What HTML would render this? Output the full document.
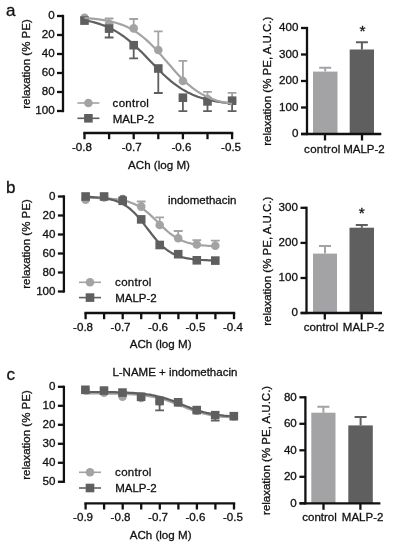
<!DOCTYPE html>
<html><head><meta charset="utf-8"><title>figure</title>
<style>
html,body{margin:0;padding:0;background:#fff;}
svg{display:block;filter:blur(0.3px);}
text{font-family:"Liberation Sans",sans-serif;fill:#111;stroke:#111;stroke-width:0.3px;}
</style></head><body>
<svg width="393" height="550" viewBox="0 0 393 550">
<rect width="393" height="550" fill="#fff"/>
<text x="5.9" y="15.5" font-size="17" text-anchor="start" >a</text>
<text transform="translate(29.6,64.0) rotate(-90)" font-size="11.5" text-anchor="middle">relaxation (% PE)</text>
<path d="M109.1,23.8 V18.5 M104.7,18.5 H113.5" fill="none" stroke="#a3a3a6" stroke-width="1.8"/>
<path d="M133.7,28.4 V19.0 M129.3,19.0 H138.1" fill="none" stroke="#a3a3a6" stroke-width="1.8"/>
<path d="M158.3,50.0 V31.4 M153.9,31.4 H162.7" fill="none" stroke="#a3a3a6" stroke-width="1.8"/>
<path d="M182.9,81.0 V60.8 M178.5,60.8 H187.3" fill="none" stroke="#a3a3a6" stroke-width="1.8"/>
<path d="M207.5,99.0 V91.8 M203.1,91.8 H211.9" fill="none" stroke="#a3a3a6" stroke-width="1.8"/>
<path d="M232.1,101.0 V92.9 M227.7,92.9 H236.5" fill="none" stroke="#a3a3a6" stroke-width="1.8"/>
<circle cx="84.5" cy="17.8" r="4.3" fill="#a3a3a6"/>
<circle cx="109.1" cy="23.8" r="4.3" fill="#a3a3a6"/>
<circle cx="133.7" cy="28.4" r="4.3" fill="#a3a3a6"/>
<circle cx="158.3" cy="50.0" r="4.3" fill="#a3a3a6"/>
<circle cx="182.9" cy="81.0" r="4.3" fill="#a3a3a6"/>
<circle cx="207.5" cy="99.0" r="4.3" fill="#a3a3a6"/>
<circle cx="232.1" cy="101.0" r="4.3" fill="#a3a3a6"/>
<path d="M109.1,28.6 V37.5 M104.7,37.5 H113.5" fill="none" stroke="#5f5f5f" stroke-width="1.8"/>
<path d="M133.7,45.2 V58.4 M129.3,58.4 H138.1" fill="none" stroke="#5f5f5f" stroke-width="1.8"/>
<path d="M158.3,68.5 V93.0 M153.9,93.0 H162.7" fill="none" stroke="#5f5f5f" stroke-width="1.8"/>
<path d="M182.9,97.7 V111.2 M178.5,111.2 H187.3" fill="none" stroke="#5f5f5f" stroke-width="1.8"/>
<path d="M207.5,101.4 V111.2 M203.1,111.2 H211.9" fill="none" stroke="#5f5f5f" stroke-width="1.8"/>
<path d="M232.1,100.7 V111.2 M227.7,111.2 H236.5" fill="none" stroke="#5f5f5f" stroke-width="1.8"/>
<rect x="80.2" y="16.3" width="8.6" height="8.6" fill="#5f5f5f"/>
<rect x="104.8" y="24.3" width="8.6" height="8.6" fill="#5f5f5f"/>
<rect x="129.4" y="40.9" width="8.6" height="8.6" fill="#5f5f5f"/>
<rect x="154.0" y="64.2" width="8.6" height="8.6" fill="#5f5f5f"/>
<rect x="178.6" y="93.4" width="8.6" height="8.6" fill="#5f5f5f"/>
<rect x="203.2" y="97.1" width="8.6" height="8.6" fill="#5f5f5f"/>
<rect x="227.8" y="96.4" width="8.6" height="8.6" fill="#5f5f5f"/>
<polyline points="84.5,20.3 87.0,20.7 89.4,21.2 91.9,21.8 94.3,22.4 96.8,23.1 99.3,23.9 101.7,24.7 104.2,25.6 106.6,26.6 109.1,27.7 111.6,28.9 114.0,30.2 116.5,31.6 118.9,33.1 121.4,34.8 123.9,36.5 126.3,38.4 128.8,40.3 131.2,42.4 133.7,44.6 136.2,46.8 138.6,49.2 141.1,51.6 143.5,54.1 146.0,56.6 148.5,59.2 150.9,61.8 153.4,64.3 155.8,66.9 158.3,69.4 160.8,71.8 163.2,74.2 165.7,76.5 168.1,78.7 170.6,80.8 173.1,82.8 175.5,84.6 178.0,86.4 180.4,88.1 182.9,89.6 185.4,91.0 187.8,92.4 190.3,93.6 192.7,94.7 195.2,95.7 197.7,96.7 200.1,97.5 202.6,98.3 205.0,99.0 207.5,99.6 210.0,100.2 212.4,100.7 214.9,101.2 217.3,101.6 219.8,102.0 222.3,102.3 224.7,102.6 227.2,102.9 229.6,103.2 232.1,103.4" fill="none" stroke="#5f5f5f" stroke-width="2.2" stroke-linejoin="round"/>
<polyline points="84.5,18.0 87.0,18.2 89.4,18.4 91.9,18.6 94.3,18.8 96.8,19.1 99.3,19.4 101.7,19.8 104.2,20.2 106.6,20.6 109.1,21.1 111.6,21.7 114.0,22.3 116.5,23.0 118.9,23.7 121.4,24.6 123.9,25.6 126.3,26.6 128.8,27.8 131.2,29.1 133.7,30.5 136.2,32.1 138.6,33.7 141.1,35.6 143.5,37.5 146.0,39.6 148.5,41.9 150.9,44.2 153.4,46.7 155.8,49.3 158.3,52.0 160.8,54.8 163.2,57.6 165.7,60.4 168.1,63.3 170.6,66.1 173.1,68.9 175.5,71.7 178.0,74.4 180.4,77.0 182.9,79.5 185.4,81.8 187.8,84.1 190.3,86.1 192.7,88.1 195.2,89.9 197.7,91.6 200.1,93.1 202.6,94.6 205.0,95.8 207.5,97.0 210.0,98.1 212.4,99.0 214.9,99.9 217.3,100.7 219.8,101.4 222.3,102.0 224.7,102.5 227.2,103.0 229.6,103.5 232.1,103.8" fill="none" stroke="#a3a3a6" stroke-width="2.2" stroke-linejoin="round"/>
<path d="M63.0,14.8 V112.2" stroke="#111" stroke-width="2.3" fill="none"/>
<path d="M57.0,16.0 H63.0" stroke="#111" stroke-width="2.3" fill="none"/>
<text x="54.6" y="19.4" font-size="11.6" text-anchor="end" >0</text>
<path d="M57.0,35.0 H63.0" stroke="#111" stroke-width="2.3" fill="none"/>
<text x="54.6" y="38.4" font-size="11.6" text-anchor="end" >20</text>
<path d="M57.0,54.0 H63.0" stroke="#111" stroke-width="2.3" fill="none"/>
<text x="54.6" y="57.4" font-size="11.6" text-anchor="end" >40</text>
<path d="M57.0,73.0 H63.0" stroke="#111" stroke-width="2.3" fill="none"/>
<text x="54.6" y="76.4" font-size="11.6" text-anchor="end" >60</text>
<path d="M57.0,92.0 H63.0" stroke="#111" stroke-width="2.3" fill="none"/>
<text x="54.6" y="95.4" font-size="11.6" text-anchor="end" >80</text>
<path d="M57.0,111.0 H63.0" stroke="#111" stroke-width="2.3" fill="none"/>
<text x="54.6" y="114.4" font-size="11.6" text-anchor="end" >100</text>
<path d="M83.3,133.0 H233.2" stroke="#111" stroke-width="2.3" fill="none"/>
<path d="M84.5,133.0 V139.2" stroke="#111" stroke-width="2.3" fill="none"/>
<path d="M133.7,133.0 V139.2" stroke="#111" stroke-width="2.3" fill="none"/>
<path d="M182.9,133.0 V139.2" stroke="#111" stroke-width="2.3" fill="none"/>
<path d="M232.1,133.0 V139.2" stroke="#111" stroke-width="2.3" fill="none"/>
<path d="M109.1,133.0 V139.2" stroke="#111" stroke-width="2.3" fill="none"/>
<path d="M158.3,133.0 V139.2" stroke="#111" stroke-width="2.3" fill="none"/>
<path d="M207.5,133.0 V139.2" stroke="#111" stroke-width="2.3" fill="none"/>
<text x="82.0" y="151.1" font-size="11.6" text-anchor="middle" >-0.8</text>
<text x="131.7" y="151.1" font-size="11.6" text-anchor="middle" >-0.7</text>
<text x="181.4" y="151.1" font-size="11.6" text-anchor="middle" >-0.6</text>
<text x="231.1" y="151.1" font-size="11.6" text-anchor="middle" >-0.5</text>
<text x="159.0" y="169.3" font-size="11.6" text-anchor="middle" >ACh (log M)</text>
<path d="M77.4,103.0 H99.4" stroke="#a3a3a6" stroke-width="1.6"/>
<circle cx="88.4" cy="103.0" r="4.3" fill="#a3a3a6"/>
<path d="M77.4,118.3 H99.4" stroke="#5f5f5f" stroke-width="1.6"/>
<rect x="84.1" y="114.0" width="8.6" height="8.6" fill="#5f5f5f"/>
<text x="112.6" y="107.0" font-size="11.5" text-anchor="start" letter-spacing="0.3">control</text>
<text x="112.7" y="123.0" font-size="11.5" text-anchor="start" >MALP-2</text>
<text transform="translate(271.4,81.2) rotate(-90)" font-size="11.5" text-anchor="middle">relaxation (% PE, A.U.C.)</text>
<path d="M325.2,71.6 V67.7 M319.2,67.7 H331.2" fill="none" stroke="#a3a3a6" stroke-width="2"/>
<rect x="313.0" y="71.6" width="24.5" height="62.4" fill="#a3a3a6"/>
<path d="M361.9,49.5 V42.2 M355.9,42.2 H367.9" fill="none" stroke="#5f5f5f" stroke-width="2"/>
<rect x="349.7" y="49.5" width="24.3" height="84.5" fill="#5f5f5f"/>
<path d="M307.0,26.9 V135.2" stroke="#111" stroke-width="2.3" fill="none"/>
<path d="M301.0,28.0 H307.0" stroke="#111" stroke-width="2.3" fill="none"/>
<text x="298.4" y="31.4" font-size="11.6" text-anchor="end" >400</text>
<path d="M301.0,54.5 H307.0" stroke="#111" stroke-width="2.3" fill="none"/>
<text x="298.4" y="57.9" font-size="11.6" text-anchor="end" >300</text>
<path d="M301.0,81.0 H307.0" stroke="#111" stroke-width="2.3" fill="none"/>
<text x="298.4" y="84.4" font-size="11.6" text-anchor="end" >200</text>
<path d="M301.0,107.5 H307.0" stroke="#111" stroke-width="2.3" fill="none"/>
<text x="298.4" y="110.9" font-size="11.6" text-anchor="end" >100</text>
<path d="M301.0,134.0 H307.0" stroke="#111" stroke-width="2.3" fill="none"/>
<text x="298.4" y="137.4" font-size="11.6" text-anchor="end" >0</text>
<path d="M301.0,134.0 H381.3" stroke="#111" stroke-width="2.3" fill="none"/>
<path d="M325.0,134.0 V140.5" stroke="#111" stroke-width="2.3" fill="none"/>
<path d="M362.0,134.0 V140.5" stroke="#111" stroke-width="2.3" fill="none"/>
<text x="322.4" y="153.0" font-size="11.5" text-anchor="middle" letter-spacing="0.3">control</text>
<text x="364.0" y="153.0" font-size="11.5" text-anchor="middle" >MALP-2</text>
<text x="362.5" y="36.3" font-size="15.5" text-anchor="middle" stroke-width="0.5">*</text>
<text x="6.1" y="192.5" font-size="17" text-anchor="start" >b</text>
<text transform="translate(29.8,244.0) rotate(-90)" font-size="11.5" text-anchor="middle">relaxation (% PE)</text>
<polyline points="85.6,197.8 87.8,197.8 89.9,197.9 92.1,197.9 94.2,197.9 96.4,198.0 98.6,198.1 100.7,198.1 102.9,198.2 105.1,198.3 107.2,198.5 109.4,198.6 111.5,198.8 113.7,199.0 115.9,199.2 118.0,199.5 120.2,199.9 122.4,200.3 124.5,200.8 126.7,201.3 128.8,201.9 131.0,202.7 133.2,203.5 135.3,204.5 137.5,205.6 139.6,206.8 141.8,208.2 144.0,209.7 146.1,211.4 148.3,213.2 150.5,215.1 152.6,217.1 154.8,219.2 156.9,221.3 159.1,223.5 161.3,225.6 163.4,227.7 165.6,229.6 167.7,231.5 169.9,233.3 172.1,234.9 174.2,236.4 176.4,237.8 178.6,239.0 180.7,240.0 182.9,241.0 185.0,241.8 187.2,242.5 189.4,243.1 191.5,243.6 193.7,244.1 195.9,244.5 198.0,244.8 200.2,245.1 202.3,245.3 204.5,245.5 206.7,245.7 208.8,245.8 211.0,246.0 213.1,246.1 215.3,246.2" fill="none" stroke="#a3a3a6" stroke-width="2.2" stroke-linejoin="round"/>
<polyline points="85.6,196.8 87.8,196.8 89.9,196.9 92.1,197.0 94.2,197.2 96.4,197.3 98.6,197.5 100.7,197.7 102.9,198.0 105.1,198.3 107.2,198.7 109.4,199.1 111.5,199.6 113.7,200.2 115.9,200.9 118.0,201.7 120.2,202.6 122.4,203.7 124.5,205.0 126.7,206.4 128.8,207.9 131.0,209.7 133.2,211.7 135.3,213.8 137.5,216.2 139.6,218.7 141.8,221.3 144.0,224.1 146.1,226.9 148.3,229.7 150.5,232.5 152.6,235.3 154.8,238.0 156.9,240.5 159.1,242.9 161.3,245.0 163.4,247.0 165.6,248.9 167.7,250.5 169.9,251.9 172.1,253.2 174.2,254.3 176.4,255.2 178.6,256.1 180.7,256.8 182.9,257.4 185.0,257.9 187.2,258.3 189.4,258.7 191.5,259.0 193.7,259.3 195.9,259.5 198.0,259.7 200.2,259.9 202.3,260.0 204.5,260.1 206.7,260.2 208.8,260.3 211.0,260.4 213.1,260.4 215.3,260.5" fill="none" stroke="#5f5f5f" stroke-width="2.2" stroke-linejoin="round"/>
<path d="M141.2,206.6 V201.5 M136.8,201.5 H145.6" fill="none" stroke="#a3a3a6" stroke-width="1.8"/>
<path d="M159.7,225.0 V217.4 M155.3,217.4 H164.1" fill="none" stroke="#a3a3a6" stroke-width="1.8"/>
<path d="M178.2,238.2 V231.0 M173.8,231.0 H182.7" fill="none" stroke="#a3a3a6" stroke-width="1.8"/>
<path d="M196.8,244.5 V240.2 M192.4,240.2 H201.2" fill="none" stroke="#a3a3a6" stroke-width="1.8"/>
<path d="M215.3,245.8 V240.7 M210.9,240.7 H219.7" fill="none" stroke="#a3a3a6" stroke-width="1.8"/>
<circle cx="85.6" cy="199.8" r="4.3" fill="#a3a3a6"/>
<circle cx="104.1" cy="197.5" r="4.3" fill="#a3a3a6"/>
<circle cx="122.7" cy="199.0" r="4.3" fill="#a3a3a6"/>
<circle cx="141.2" cy="206.6" r="4.3" fill="#a3a3a6"/>
<circle cx="159.7" cy="225.0" r="4.3" fill="#a3a3a6"/>
<circle cx="178.2" cy="238.2" r="4.3" fill="#a3a3a6"/>
<circle cx="196.8" cy="244.5" r="4.3" fill="#a3a3a6"/>
<circle cx="215.3" cy="245.8" r="4.3" fill="#a3a3a6"/>
<path d="M122.7,200.8 V196.3 M120.2,196.3 H125.2" fill="none" stroke="#5f5f5f" stroke-width="1.8"/>
<rect x="81.3" y="192.2" width="8.6" height="8.6" fill="#5f5f5f"/>
<rect x="99.8" y="192.2" width="8.6" height="8.6" fill="#5f5f5f"/>
<rect x="118.4" y="196.5" width="8.6" height="8.6" fill="#5f5f5f"/>
<rect x="136.9" y="215.1" width="8.6" height="8.6" fill="#5f5f5f"/>
<rect x="155.4" y="240.7" width="8.6" height="8.6" fill="#5f5f5f"/>
<rect x="173.9" y="249.9" width="8.6" height="8.6" fill="#5f5f5f"/>
<rect x="192.5" y="256.0" width="8.6" height="8.6" fill="#5f5f5f"/>
<rect x="211.0" y="256.3" width="8.6" height="8.6" fill="#5f5f5f"/>
<path d="M63.9,195.3 V292.6" stroke="#111" stroke-width="2.3" fill="none"/>
<path d="M57.9,196.5 H63.9" stroke="#111" stroke-width="2.3" fill="none"/>
<text x="55.5" y="199.9" font-size="11.6" text-anchor="end" >0</text>
<path d="M57.9,215.5 H63.9" stroke="#111" stroke-width="2.3" fill="none"/>
<text x="55.5" y="218.9" font-size="11.6" text-anchor="end" >20</text>
<path d="M57.9,234.5 H63.9" stroke="#111" stroke-width="2.3" fill="none"/>
<text x="55.5" y="237.9" font-size="11.6" text-anchor="end" >40</text>
<path d="M57.9,253.5 H63.9" stroke="#111" stroke-width="2.3" fill="none"/>
<text x="55.5" y="256.9" font-size="11.6" text-anchor="end" >60</text>
<path d="M57.9,272.5 H63.9" stroke="#111" stroke-width="2.3" fill="none"/>
<text x="55.5" y="275.9" font-size="11.6" text-anchor="end" >80</text>
<path d="M57.9,291.5 H63.9" stroke="#111" stroke-width="2.3" fill="none"/>
<text x="55.5" y="294.9" font-size="11.6" text-anchor="end" >100</text>
<path d="M84.4,313.0 H235.2" stroke="#111" stroke-width="2.3" fill="none"/>
<path d="M85.6,313.0 V319.2" stroke="#111" stroke-width="2.3" fill="none"/>
<path d="M122.7,313.0 V319.2" stroke="#111" stroke-width="2.3" fill="none"/>
<path d="M159.8,313.0 V319.2" stroke="#111" stroke-width="2.3" fill="none"/>
<path d="M196.9,313.0 V319.2" stroke="#111" stroke-width="2.3" fill="none"/>
<path d="M234.0,313.0 V319.2" stroke="#111" stroke-width="2.3" fill="none"/>
<path d="M104.1,313.0 V319.2" stroke="#111" stroke-width="2.3" fill="none"/>
<path d="M141.2,313.0 V319.2" stroke="#111" stroke-width="2.3" fill="none"/>
<path d="M178.4,313.0 V319.2" stroke="#111" stroke-width="2.3" fill="none"/>
<path d="M215.4,313.0 V319.2" stroke="#111" stroke-width="2.3" fill="none"/>
<text x="83.1" y="331.1" font-size="11.6" text-anchor="middle" >-0.8</text>
<text x="120.6" y="331.1" font-size="11.6" text-anchor="middle" >-0.7</text>
<text x="158.1" y="331.1" font-size="11.6" text-anchor="middle" >-0.6</text>
<text x="195.5" y="331.1" font-size="11.6" text-anchor="middle" >-0.5</text>
<text x="233.0" y="331.1" font-size="11.6" text-anchor="middle" >-0.4</text>
<text x="160.6" y="347.6" font-size="11.6" text-anchor="middle" >ACh (log M)</text>
<path d="M79.0,282.3 H101.0" stroke="#a3a3a6" stroke-width="1.6"/>
<circle cx="90.0" cy="282.3" r="4.3" fill="#a3a3a6"/>
<path d="M79.0,297.6 H101.0" stroke="#5f5f5f" stroke-width="1.6"/>
<rect x="85.7" y="293.3" width="8.6" height="8.6" fill="#5f5f5f"/>
<text x="115.1" y="286.3" font-size="11.5" text-anchor="start" letter-spacing="0.3">control</text>
<text x="115.2" y="301.8" font-size="11.5" text-anchor="start" >MALP-2</text>
<text x="168.0" y="204.4" font-size="11.5" text-anchor="start" >indomethacin</text>
<text transform="translate(271.4,261.2) rotate(-90)" font-size="11.5" text-anchor="middle">relaxation (% PE, A.U.C.)</text>
<path d="M325.0,253.6 V246.0 M319.0,246.0 H331.0" fill="none" stroke="#a3a3a6" stroke-width="2"/>
<rect x="313.0" y="253.6" width="24.0" height="59.4" fill="#a3a3a6"/>
<path d="M361.8,227.7 V224.9 M355.8,224.9 H367.8" fill="none" stroke="#5f5f5f" stroke-width="2"/>
<rect x="349.5" y="227.7" width="24.5" height="85.3" fill="#5f5f5f"/>
<path d="M306.5,206.7 V314.1" stroke="#111" stroke-width="2.3" fill="none"/>
<path d="M300.5,207.8 H306.5" stroke="#111" stroke-width="2.3" fill="none"/>
<text x="297.9" y="211.2" font-size="11.6" text-anchor="end" >300</text>
<path d="M300.5,242.9 H306.5" stroke="#111" stroke-width="2.3" fill="none"/>
<text x="297.9" y="246.3" font-size="11.6" text-anchor="end" >200</text>
<path d="M300.5,278.0 H306.5" stroke="#111" stroke-width="2.3" fill="none"/>
<text x="297.9" y="281.4" font-size="11.6" text-anchor="end" >100</text>
<path d="M300.5,313.0 H306.5" stroke="#111" stroke-width="2.3" fill="none"/>
<text x="297.9" y="316.4" font-size="11.6" text-anchor="end" >0</text>
<path d="M300.8,313.0 H382.0" stroke="#111" stroke-width="2.3" fill="none"/>
<path d="M324.8,313.0 V319.5" stroke="#111" stroke-width="2.3" fill="none"/>
<path d="M361.7,313.0 V319.5" stroke="#111" stroke-width="2.3" fill="none"/>
<text x="321.0" y="331.2" font-size="11.5" text-anchor="middle" letter-spacing="0">control</text>
<text x="363.6" y="331.2" font-size="11.5" text-anchor="middle" >MALP-2</text>
<text x="361.8" y="218.4" font-size="15.5" text-anchor="middle" stroke-width="0.5">*</text>
<text x="6.4" y="380.3" font-size="17" text-anchor="start" >c</text>
<text transform="translate(30.0,435.0) rotate(-90)" font-size="11.5" text-anchor="middle">relaxation (% PE)</text>
<polyline points="85.4,393.4 87.9,393.4 90.3,393.4 92.8,393.4 95.3,393.4 97.8,393.4 100.2,393.4 102.7,393.5 105.2,393.5 107.7,393.5 110.1,393.6 112.6,393.6 115.1,393.7 117.6,393.7 120.0,393.8 122.5,393.9 125.0,394.0 127.4,394.1 129.9,394.2 132.4,394.4 134.9,394.5 137.3,394.7 139.8,395.0 142.3,395.2 144.8,395.5 147.2,395.9 149.7,396.3 152.2,396.7 154.7,397.2 157.1,397.7 159.6,398.4 162.1,399.0 164.5,399.8 167.0,400.5 169.5,401.4 172.0,402.3 174.4,403.2 176.9,404.2 179.4,405.2 181.9,406.1 184.3,407.1 186.8,408.1 189.3,409.0 191.8,409.9 194.2,410.8 196.7,411.6 199.2,412.4 201.6,413.0 204.1,413.7 206.6,414.2 209.1,414.8 211.5,415.2 214.0,415.6 216.5,416.0 219.0,416.3 221.4,416.6 223.9,416.8 226.4,417.0 228.9,417.2 231.3,417.3 233.8,417.5" fill="none" stroke="#a3a3a6" stroke-width="2.2" stroke-linejoin="round"/>
<polyline points="85.4,392.0 87.9,392.0 90.3,392.0 92.8,392.0 95.3,392.0 97.8,392.0 100.2,392.0 102.7,392.1 105.2,392.1 107.7,392.1 110.1,392.2 112.6,392.2 115.1,392.2 117.6,392.3 120.0,392.4 122.5,392.4 125.0,392.5 127.4,392.6 129.9,392.8 132.4,392.9 134.9,393.1 137.3,393.3 139.8,393.5 142.3,393.7 144.8,394.0 147.2,394.4 149.7,394.7 152.2,395.2 154.7,395.6 157.1,396.2 159.6,396.8 162.1,397.4 164.5,398.1 167.0,398.9 169.5,399.7 172.0,400.6 174.4,401.5 176.9,402.5 179.4,403.5 181.9,404.5 184.3,405.5 186.8,406.5 189.3,407.4 191.8,408.4 194.2,409.3 196.7,410.1 199.2,410.9 201.6,411.6 204.1,412.3 206.6,412.9 209.1,413.4 211.5,413.9 214.0,414.3 216.5,414.7 219.0,415.0 221.4,415.3 223.9,415.6 226.4,415.8 228.9,416.0 231.3,416.2 233.8,416.3" fill="none" stroke="#5f5f5f" stroke-width="2.2" stroke-linejoin="round"/>
<circle cx="85.4" cy="390.5" r="4.3" fill="#a3a3a6"/>
<circle cx="104.0" cy="392.8" r="4.3" fill="#a3a3a6"/>
<circle cx="122.5" cy="396.6" r="4.3" fill="#a3a3a6"/>
<circle cx="141.1" cy="398.0" r="4.3" fill="#a3a3a6"/>
<circle cx="159.6" cy="401.5" r="4.3" fill="#a3a3a6"/>
<circle cx="178.2" cy="402.5" r="4.3" fill="#a3a3a6"/>
<circle cx="196.7" cy="410.8" r="4.3" fill="#a3a3a6"/>
<circle cx="215.2" cy="415.5" r="4.3" fill="#a3a3a6"/>
<circle cx="233.8" cy="416.5" r="4.3" fill="#a3a3a6"/>
<path d="M159.6,401.0 V410.3 M155.2,410.3 H164.0" fill="none" stroke="#5f5f5f" stroke-width="1.8"/>
<path d="M215.2,415.2 V420.8 M210.9,420.8 H219.6" fill="none" stroke="#5f5f5f" stroke-width="1.4"/>
<rect x="81.1" y="385.5" width="8.6" height="8.6" fill="#5f5f5f"/>
<rect x="99.7" y="386.3" width="8.6" height="8.6" fill="#5f5f5f"/>
<rect x="118.2" y="388.3" width="8.6" height="8.6" fill="#5f5f5f"/>
<rect x="136.8" y="392.5" width="8.6" height="8.6" fill="#5f5f5f"/>
<rect x="155.3" y="396.7" width="8.6" height="8.6" fill="#5f5f5f"/>
<rect x="173.8" y="398.0" width="8.6" height="8.6" fill="#5f5f5f"/>
<rect x="192.4" y="405.8" width="8.6" height="8.6" fill="#5f5f5f"/>
<rect x="210.9" y="410.9" width="8.6" height="8.6" fill="#5f5f5f"/>
<rect x="229.5" y="411.9" width="8.6" height="8.6" fill="#5f5f5f"/>
<path d="M63.9,385.7 V482.9" stroke="#111" stroke-width="2.3" fill="none"/>
<path d="M57.9,386.8 H63.9" stroke="#111" stroke-width="2.3" fill="none"/>
<text x="55.5" y="390.2" font-size="11.6" text-anchor="end" >0</text>
<path d="M57.9,405.8 H63.9" stroke="#111" stroke-width="2.3" fill="none"/>
<text x="55.5" y="409.2" font-size="11.6" text-anchor="end" >10</text>
<path d="M57.9,424.8 H63.9" stroke="#111" stroke-width="2.3" fill="none"/>
<text x="55.5" y="428.2" font-size="11.6" text-anchor="end" >20</text>
<path d="M57.9,443.8 H63.9" stroke="#111" stroke-width="2.3" fill="none"/>
<text x="55.5" y="447.2" font-size="11.6" text-anchor="end" >30</text>
<path d="M57.9,462.8 H63.9" stroke="#111" stroke-width="2.3" fill="none"/>
<text x="55.5" y="466.2" font-size="11.6" text-anchor="end" >40</text>
<path d="M57.9,481.8 H63.9" stroke="#111" stroke-width="2.3" fill="none"/>
<text x="55.5" y="485.2" font-size="11.6" text-anchor="end" >50</text>
<path d="M84.4,503.3 H235.2" stroke="#111" stroke-width="2.3" fill="none"/>
<path d="M85.6,503.3 V509.5" stroke="#111" stroke-width="2.3" fill="none"/>
<path d="M122.7,503.3 V509.5" stroke="#111" stroke-width="2.3" fill="none"/>
<path d="M159.8,503.3 V509.5" stroke="#111" stroke-width="2.3" fill="none"/>
<path d="M196.9,503.3 V509.5" stroke="#111" stroke-width="2.3" fill="none"/>
<path d="M234.0,503.3 V509.5" stroke="#111" stroke-width="2.3" fill="none"/>
<path d="M104.1,503.3 V509.5" stroke="#111" stroke-width="2.3" fill="none"/>
<path d="M141.2,503.3 V509.5" stroke="#111" stroke-width="2.3" fill="none"/>
<path d="M178.4,503.3 V509.5" stroke="#111" stroke-width="2.3" fill="none"/>
<path d="M215.4,503.3 V509.5" stroke="#111" stroke-width="2.3" fill="none"/>
<text x="83.1" y="521.4" font-size="11.6" text-anchor="middle" >-0.9</text>
<text x="120.6" y="521.4" font-size="11.6" text-anchor="middle" >-0.8</text>
<text x="158.1" y="521.4" font-size="11.6" text-anchor="middle" >-0.7</text>
<text x="195.5" y="521.4" font-size="11.6" text-anchor="middle" >-0.6</text>
<text x="233.0" y="521.4" font-size="11.6" text-anchor="middle" >-0.5</text>
<text x="160.6" y="539.0" font-size="11.6" text-anchor="middle" >ACh (log M)</text>
<path d="M79.0,472.3 H101.0" stroke="#a3a3a6" stroke-width="1.6"/>
<circle cx="90.0" cy="472.3" r="4.3" fill="#a3a3a6"/>
<path d="M79.0,488.0 H101.0" stroke="#5f5f5f" stroke-width="1.6"/>
<rect x="85.7" y="483.7" width="8.6" height="8.6" fill="#5f5f5f"/>
<text x="115.1" y="476.3" font-size="11.5" text-anchor="start" letter-spacing="0.3">control</text>
<text x="115.2" y="492.2" font-size="11.5" text-anchor="start" >MALP-2</text>
<text x="112.4" y="375.7" font-size="11.5" text-anchor="start" >L-NAME + indomethacin</text>
<text transform="translate(269.9,450.4) rotate(-90)" font-size="11.5" text-anchor="middle">relaxation (% PE, A.U.C.)</text>
<path d="M323.4,412.7 V406.8 M317.4,406.8 H329.4" fill="none" stroke="#a3a3a6" stroke-width="2"/>
<rect x="311.3" y="412.7" width="24.2" height="90.6" fill="#a3a3a6"/>
<path d="M360.6,425.4 V417.0 M354.6,417.0 H366.6" fill="none" stroke="#5f5f5f" stroke-width="2"/>
<rect x="348.3" y="425.4" width="24.5" height="77.9" fill="#5f5f5f"/>
<path d="M305.4,396.2 V504.4" stroke="#111" stroke-width="2.3" fill="none"/>
<path d="M299.4,397.3 H305.4" stroke="#111" stroke-width="2.3" fill="none"/>
<text x="296.8" y="400.7" font-size="11.6" text-anchor="end" >80</text>
<path d="M299.4,423.8 H305.4" stroke="#111" stroke-width="2.3" fill="none"/>
<text x="296.8" y="427.2" font-size="11.6" text-anchor="end" >60</text>
<path d="M299.4,450.3 H305.4" stroke="#111" stroke-width="2.3" fill="none"/>
<text x="296.8" y="453.7" font-size="11.6" text-anchor="end" >40</text>
<path d="M299.4,476.8 H305.4" stroke="#111" stroke-width="2.3" fill="none"/>
<text x="296.8" y="480.2" font-size="11.6" text-anchor="end" >20</text>
<path d="M299.4,503.3 H305.4" stroke="#111" stroke-width="2.3" fill="none"/>
<text x="296.8" y="506.7" font-size="11.6" text-anchor="end" >0</text>
<path d="M299.6,503.3 H380.4" stroke="#111" stroke-width="2.3" fill="none"/>
<path d="M323.5,503.3 V509.8" stroke="#111" stroke-width="2.3" fill="none"/>
<path d="M360.4,503.3 V509.8" stroke="#111" stroke-width="2.3" fill="none"/>
<text x="319.5" y="521.3" font-size="11.5" text-anchor="middle" letter-spacing="0">control</text>
<text x="362.6" y="521.3" font-size="11.5" text-anchor="middle" >MALP-2</text>
</svg>
</body></html>
